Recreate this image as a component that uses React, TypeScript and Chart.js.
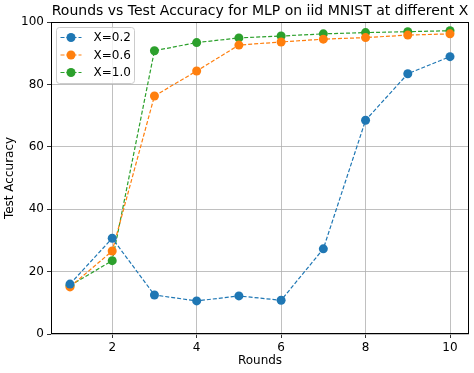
import React, { useEffect, useRef } from "react";
import { Chart, registerables } from "chart.js";
Chart.register(...registerables);

const rounds = [1, 2, 3, 4, 5, 6, 7, 8, 9, 10];
const acc02 = [16.0, 30.7, 12.5, 10.6, 12.2, 10.8, 27.3, 68.5, 83.4, 88.9];
const acc06 = [15.1, 26.6, 76.3, 84.3, 92.6, 93.6, 94.5, 95.0, 95.8, 96.2];
const acc10 = [15.5, 23.5, 90.8, 93.4, 94.9, 95.5, 96.2, 96.6, 96.9, 97.2];
const seriesLabels = ["X=0.2", "X=0.6", "X=1.0"];
const seriesColors = ["#1f77b4", "#ff7f0e", "#2ca02c"];
const xTicks = [2, 4, 6, 8, 10];
const yTicks = [0, 20, 40, 60, 80, 100];
const chartTitle = "Rounds vs Test Accuracy for MLP on iid MNIST at different X";

const FONT = "'DejaVu Sans', sans-serif";

const framePlugin = {
  id: "frame",
  afterDatasetsDraw(chart: any) {
    const { ctx, chartArea: a } = chart;
    ctx.save();
    ctx.strokeStyle = "#000";
    ctx.lineWidth = 1;
    ctx.setLineDash([]);
    ctx.strokeRect(a.left + 0.5, a.top + 0.5, a.right - a.left - 1, a.bottom - a.top - 1);
    ctx.restore();
  },
};

const titlePlugin = {
  id: "axesTitle",
  afterDraw(chart: any) {
    const { ctx, chartArea: a } = chart;
    ctx.save();
    ctx.fillStyle = "#000";
    ctx.font = `14px ${FONT}`;
    ctx.textAlign = "center";
    ctx.textBaseline = "middle";
    ctx.fillText(chartTitle, (a.left + a.right) / 2, 11);
    ctx.restore();
  },
};

const legendPlugin = {
  id: "boxLegend",
  afterDraw(chart: any) {
    const { ctx, chartArea: a } = chart;
    const x0 = a.left + 5.5;
    const y0 = a.top + 5.5;
    const w = 78;
    const h = 56;
    ctx.save();
    ctx.beginPath();
    const r = 3;
    ctx.moveTo(x0 + r, y0);
    ctx.lineTo(x0 + w - r, y0);
    ctx.arcTo(x0 + w, y0, x0 + w, y0 + r, r);
    ctx.lineTo(x0 + w, y0 + h - r);
    ctx.arcTo(x0 + w, y0 + h, x0 + w - r, y0 + h, r);
    ctx.lineTo(x0 + r, y0 + h);
    ctx.arcTo(x0, y0 + h, x0, y0 + h - r, r);
    ctx.lineTo(x0, y0 + r);
    ctx.arcTo(x0, y0, x0 + r, y0, r);
    ctx.closePath();
    ctx.fillStyle = "rgba(255,255,255,0.8)";
    ctx.fill();
    ctx.strokeStyle = "#cccccc";
    ctx.lineWidth = 1;
    ctx.stroke();
    chart.data.datasets.forEach((ds: any, i: number) => {
      const y = y0 + 10 + i * 17.5;
      ctx.strokeStyle = ds.borderColor;
      ctx.lineWidth = 1.2;
      ctx.setLineDash([4, 2]);
      ctx.beginPath();
      ctx.moveTo(x0 + 4, y);
      ctx.lineTo(x0 + 25, y);
      ctx.stroke();
      ctx.setLineDash([]);
      ctx.fillStyle = ds.backgroundColor;
      ctx.beginPath();
      ctx.arc(x0 + 14.5, y, 4.5, 0, Math.PI * 2);
      ctx.fill();
      ctx.fillStyle = "#000";
      ctx.font = `12px ${FONT}`;
      ctx.textBaseline = "middle";
      ctx.textAlign = "left";
      ctx.fillText(ds.label, x0 + 37, y + 0.5);
    });
    ctx.restore();
  },
};

export default function App() {
  const ref = useRef<HTMLCanvasElement>(null);
  useEffect(() => {
    const series = [acc02, acc06, acc10];
    const chart = new Chart(ref.current!, {
      type: "line",
      data: {
        datasets: series.map((vals, i) => ({
          label: seriesLabels[i],
          data: rounds.map((r, j) => ({ x: r, y: vals[j] })),
          borderColor: seriesColors[i],
          backgroundColor: seriesColors[i],
          borderWidth: 1.2,
          borderDash: [4, 2],
          pointRadius: 4.5,
          pointBorderWidth: 0,
          pointHoverRadius: 4.5,
          tension: 0,
        })),
      },
      options: {
        responsive: false,
        animation: false,
        layout: { padding: { top: 22, right: 5, left: 0, bottom: 0 } },
        plugins: {
          legend: { display: false },
          tooltip: { enabled: false },
          title: { display: false },
        },
        scales: {
          x: {
            type: "linear",
            min: 0.55,
            max: 10.45,
            afterBuildTicks: (s: any) => {
              s.ticks = xTicks.map((v) => ({ value: v }));
            },
            afterFit: (s: any) => {
              s.height = 39;
            },
            grid: { color: "#b0b0b0", lineWidth: 0.8, tickLength: 4, tickColor: "#000" },
            border: { display: false },
            ticks: { color: "#000", font: { family: FONT, size: 12 }, padding: 3, maxRotation: 0 },
            title: {
              display: true,
              text: "Rounds",
              color: "#000",
              font: { family: FONT, size: 12 },
              padding: { top: 0, bottom: 5 },
            },
          },
          y: {
            min: 0,
            max: 100,
            afterBuildTicks: (s: any) => {
              s.ticks = yTicks.map((v) => ({ value: v }));
            },
            afterFit: (s: any) => {
              s.width = 51;
            },
            grid: { color: "#b0b0b0", lineWidth: 0.8, tickLength: 4, tickColor: "#000" },
            border: { display: false },
            ticks: { color: "#000", font: { family: FONT, size: 12 }, padding: 3 },
            title: {
              display: true,
              text: "Test Accuracy",
              color: "#000",
              font: { family: FONT, size: 12 },
              padding: { top: 3, bottom: 0 },
            },
          },
        },
      },
      plugins: [framePlugin, legendPlugin, titlePlugin],
    });
    return () => chart.destroy();
  }, []);
  return (
    <div style={{ position: "absolute", left: 0, top: 0, width: 474, height: 373, background: "#fff" }}>
      <canvas ref={ref} width={474} height={373} style={{ display: "block" }} />
    </div>
  );
}
